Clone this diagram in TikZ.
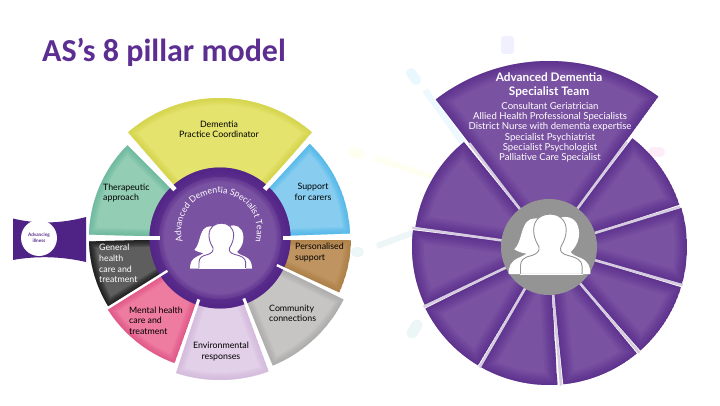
\documentclass[tikz,border=0pt]{standalone}
\usepackage{fontspec}
\setmainfont{Lato}
\newfontfamily\titlefont{Carlito}
\usetikzlibrary{decorations.text}
\definecolor{pur}{HTML}{5B2D8C}
\definecolor{purL}{HTML}{7A52A2}
\definecolor{purD}{HTML}{4F2286}
\definecolor{titlec}{HTML}{5C2E91}
\definecolor{spk}{HTML}{D6CCE0}
\definecolor{yelL}{HTML}{E4E36E}\definecolor{yelD}{HTML}{D2D140}
\definecolor{bluL}{HTML}{88CDF0}\definecolor{bluD}{HTML}{3FB2E8}
\definecolor{broL}{HTML}{C09460}\definecolor{broD}{HTML}{A67A3E}
\definecolor{gryL}{HTML}{C6C5C4}\definecolor{gryD}{HTML}{A5A4A4}
\definecolor{lilL}{HTML}{E2CFE8}\definecolor{lilD}{HTML}{D0B4DA}
\definecolor{pnkL}{HTML}{EE7CA1}\definecolor{pnkD}{HTML}{DE4A80}
\definecolor{blkL}{HTML}{5E5E5E}\definecolor{blkD}{HTML}{000000}
\definecolor{teaL}{HTML}{93CDB4}\definecolor{teaD}{HTML}{5FB498}
\tikzset{
  lbl/.style={font=\fontsize{8.8}{10.6}\selectfont, text=black, inner sep=0pt, align=left, anchor=west},
  lblc/.style={lbl, align=center, anchor=center},
  gapline/.style={white, line width=#1},
  spokeR/.style={draw=spk, line width=2.6pt},
  rtxt/.style={font=\fontsize{9.6}{9.6}\selectfont, text=white, inner sep=0pt, anchor=center},
}
\def\glowlist{2,4,6,8,10,12,14}
\def\glowop{.13}
% wedge with an inner glow: start, end, radius, light, dark
\newcommand{\pilwedge}[5]{%
  \begin{scope}
    \clip (0,0) -- (#1:#3) arc[start angle=#1,end angle=#2,radius=#3] -- cycle;
    \fill[#4] (0,0) -- (#1:#3) arc[start angle=#1,end angle=#2,radius=#3] -- cycle;
    \foreach \w in \glowlist {
      \draw[#5, opacity=\glowop, line width=\w pt] (0,0) -- (#1:#3) arc[start angle=#1,end angle=#2,radius=#3] -- cycle;
    }
  \end{scope}}
% three-person icon, local unit = 1 zoom px of the left wheel; #1 separator colour
\newcommand{\peopleicon}[1]{%
  \fill[white] (-93,0) .. controls (-93,18) and (-88,28) .. (-72,36)
     .. controls (-66,39) and (-58,42) .. (-52,46)
     .. controls (-64,48) and (-74,52) .. (-80,56)
     .. controls (-64,72) and (-66,100) .. (-52,118)
     .. controls (-42,130) and (-20,130) .. (-10,115) -- (-10,0) -- cycle;
  \fill[white] (93,0) .. controls (93,18) and (88,28) .. (72,36)
     .. controls (62,40) and (52,44) .. (48,50)
     .. controls (68,68) and (72,95) .. (62,115)
     .. controls (52,133) and (25,135) .. (10,118) -- (10,0) -- cycle;
  \fill[white, draw=#1, line width=.9pt] (-66,-0.5) -- (-66,18)
     .. controls (-66,32) and (-58,38) .. (-40,42)
     .. controls (-28,46) and (-22,52) .. (-24,62)
     .. controls (-34,78) and (-36,90) .. (-36,100)
     .. controls (-36,125) and (-18,136) .. (2,136)
     .. controls (22,136) and (38,122) .. (38,100)
     .. controls (38,88) and (34,76) .. (26,62)
     .. controls (22,52) and (28,46) .. (42,42)
     .. controls (60,38) and (74,32) .. (74,18) -- (74,-0.5) -- cycle;
  \fill[white] (-67,-2) rectangle (75,1);}
\begin{document}
\begin{tikzpicture}[x=1pt,y=1pt]
\useasboundingbox (0,0) rectangle (720,405);
\fill[white] (0,0) rectangle (720,405);
% title
\node[font=\titlefont\bfseries\fontsize{32}{34}\selectfont, text=titlec, anchor=base west, inner sep=0pt] (title) at (42,343) {AS’s 8 pillar model};

% pale background pills
\begin{scope}[line cap=round]
  \fill[blue!6, rounded corners=3pt] (501,351) rectangle (514,369);
  \draw[line width=10pt, cyan!9] (411,332) -- (416,325);
  \draw[line width=6pt, cyan!7, line cap=butt] (425,315) -- (463,262);
  \draw[line width=10pt, green!7!yellow!6] (354,253) -- (360,251);
  \draw[line width=6pt, green!7!yellow!6, line cap=butt] (375,247) -- (432,228);
  \draw[line width=10pt, magenta!7] (653,253) -- (660,253);
  \draw[line width=10pt, teal!7] (356,153) -- (359,153);
  \draw[line width=6pt, teal!7, line cap=butt] (377,159) -- (412,172);
  \draw[line width=11pt, teal!7] (412,72) -- (417,80);
\end{scope}

% left wheel
\begin{scope}[shift={(220,167)}]
  \pilwedge{49}{131}{140}{yelL}{yelD}
  \pilwedge{2}{46.5}{130}{bluL}{bluD}
  \pilwedge{-24.5}{-1}{131}{broL}{broD}
  \pilwedge{-67.5}{-26.5}{138}{gryL}{gryD}
  \pilwedge{-108}{-70}{142}{lilL}{lilD}
  \pilwedge{-147.5}{-110}{133}{pnkL}{pnkD}
  \pilwedge{-178.5}{-148.5}{131}{blkL}{blkD}
  \pilwedge{135}{178.5}{131}{teaL}{teaD}
  % centre
  \fill[pur] (0,0) circle (70.5);
  \begin{scope}
    \clip (0,0) circle (70.5);
    \foreach \w in {4,8,12,16}{\draw[purD, opacity=.2, line width=\w pt] (0,0) circle (70.5);}
  \end{scope}
  \fill[purL] (0,0) circle (61);
  \begin{scope}
    \clip (0,0) circle (61);
    \foreach \w in {2,4,6,8,10}{\draw[pur, opacity=.15, line width=\w pt] (0,0) circle (61);}
  \end{scope}
  % gaps
  \draw[gapline=4.5pt] (47.5:66) -- (47.5:145);
  \draw[gapline=4.5pt] (133:66) -- (133:145);
  \draw[gapline=3.2pt] (62.5,0) -- (145,0);
  \draw[gapline=3.2pt] (-180:60.5) -- (-180:145);
  \draw[gapline=2.4pt] (-25.5:63) -- (-25.5:145);
  \draw[gapline=3pt] (-68.5:65) -- (-68.5:145);
  \draw[gapline=3pt] (-109:65) -- (-109:145);
  \draw[gapline=2.4pt] (-148:62) -- (-148:145);
  % icon
  \begin{scope}[shift={(1,-30.5)}, x=.333pt, y=.333pt]
    \peopleicon{purL}
  \end{scope}
  % arc text
  \path[decorate, decoration={text along path, text align=center,
     text={|\color{white}\fontsize{8.8}{9}\selectfont|Advanced Dementia Specialist Team}}]
     (-1,7.2) ++(200:37.8) arc[start angle=200, end angle=-20, radius=37.8];
\end{scope}

% left wheel labels
\node[lblc] (l1) at (219,275.5) {Dementia\\Practice Coordinator};
\node[lbl] (l2) at (103,212) {Therapeutic\\approach};
\node[lblc] (l3) at (313,213) {Support\\for carers};
\node[lbl] (l4) at (295,152.5) {Personalised\\support};
\node[lbl, text=white] (l5) at (99,141.5) {General\\health\\care and\\treatment};
\node[lbl] (l6) at (129,84.5) {Mental health\\care and\\treatment};
\node[lbl] (l7) at (269,91.5) {Community\\connections};
\node[lblc] (l8) at (221,53.5) {Environmental\\responses};

% advancing illness
\fill[purD] (13,186.5) .. controls (35,181) and (60,181) .. (86,188)
   -- (86,143) .. controls (60,149) and (35,149) .. (13,145) -- cycle;
\node[circle, fill=white, minimum size=36pt, inner sep=0pt, font=\bfseries\fontsize{4.7}{6.4}\selectfont, text=pur, align=center] (adv) at (39,167) {Advancing\\illness};

% right wheel
\def\glowlist{2,5,8,11,14,17,20,24}
\def\glowop{.1}
\begin{scope}[shift={(549,158)}]
  \pilwedge{18}{52.5}{137}{purL}{purD}
  \pilwedge{-15.5}{16.5}{138}{purL}{purD}
  \pilwedge{-48.5}{-17}{138}{purL}{purD}
  \pilwedge{-84}{-50.5}{138}{purL}{purD}
  \pilwedge{-119.5}{-86.5}{138}{purL}{purD}
  \pilwedge{-153.5}{-121}{138}{purL}{purD}
  \pilwedge{173}{205}{137}{purL}{purD}
  \pilwedge{129}{171.5}{135}{purL}{purD}
  \pilwedge{54}{127.5}{186}{purL}{purD}
  \draw[spokeR] (53.5:40) -- (53.5:131);
  \draw[spokeR] (127.5:40) -- (127.5:131);
  \draw[spokeR] (17:40) -- (17:137);
  \draw[spokeR] (-16:40) -- (-16:139);
  \draw[spokeR] (-49.5:40) -- (-49.5:139);
  \draw[spokeR] (-85:40) -- (-85:139);
  \draw[spokeR] (-120:40) -- (-120:139);
  \draw[spokeR] (-154.5:40) -- (-154.5:139);
  \draw[spokeR] (172:40) -- (172:138);
  \fill[black!42] (0,0) circle (48);
  \begin{scope}[shift={(0.5,-27)}, x=.44pt, y=.44pt]
    \peopleicon{black!42}
  \end{scope}
\end{scope}

% right wheel labels
\node[rtxt, font=\bfseries\fontsize{11.8}{14}\selectfont, align=center] (r0) at (549,320) {Advanced Dementia\\Specialist Team};
\node[rtxt] (r1) at (550,299) {Consultant Geriatrician};
\node[rtxt] (r2) at (550,288.5) {Allied Health Professional Specialists};
\node[rtxt] (r3) at (550,278) {District Nurse with dementia expertise};
\node[rtxt] (r4) at (550,267.5) {Specialist Psychiatrist};
\node[rtxt] (r5) at (550,257) {Specialist Psychologist};
\node[rtxt] (r6) at (550,247) {Palliative Care Specialist};
\end{tikzpicture}
\end{document}
